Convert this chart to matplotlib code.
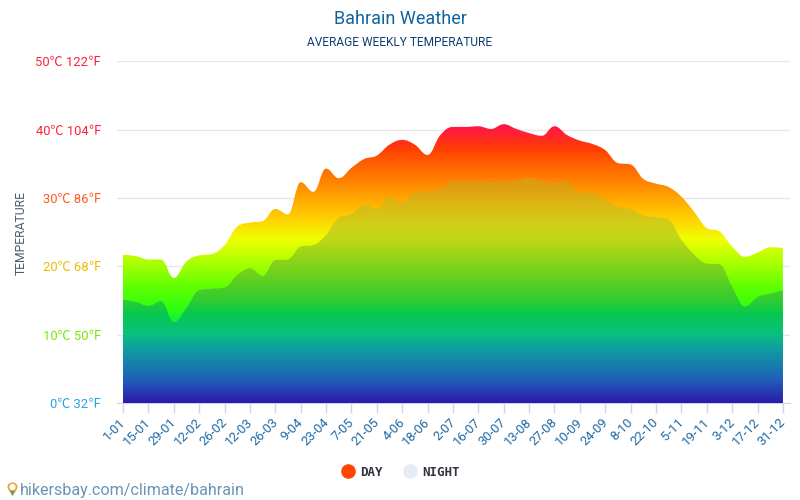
import numpy as np
import matplotlib
matplotlib.use("Agg")
import matplotlib.pyplot as plt
from matplotlib.colors import LinearSegmentedColormap
from matplotlib.lines import Line2D
from matplotlib.patches import PathPatch
from matplotlib.path import Path
from matplotlib.transforms import ScaledTranslation

plt.rcParams['font.family'] = ['Roboto', 'Noto Sans CJK SC', 'DejaVu Sans']

tick_labels = ["1-01", "15-01", "29-01", "12-02", "26-02", "12-03", "26-03", "9-04", "23-04",
               "7-05", "21-05", "4-06", "18-06", "2-07", "16-07", "30-07", "13-08", "27-08",
               "10-09", "24-09", "8-10", "22-10", "5-11", "19-11", "3-12", "17-12", "31-12"]

day = [21.7, 21.5, 21.0, 21.0, 18.3, 20.7, 21.6, 21.8, 23.1, 25.8, 26.4, 26.6, 28.4, 27.6,
       32.3, 30.9, 34.3, 32.9, 34.4, 35.7, 36.2, 37.8, 38.5, 37.8, 36.3, 39.2, 40.4, 40.4,
       40.5, 40.1, 40.8, 40.1, 39.5, 39.1, 40.5, 39.2, 38.4, 37.9, 37.0, 35.1, 34.9, 32.8,
       32.1, 31.6, 30.2, 28.0, 25.6, 25.1, 22.9, 21.4, 22.0, 22.8, 22.7]

night = [15.1, 14.8, 14.2, 14.9, 11.8, 13.9, 16.5, 16.7, 16.9, 18.7, 19.7, 18.6, 20.9, 21.0,
         22.9, 23.1, 24.6, 27.1, 27.6, 29.0, 28.4, 30.2, 29.3, 30.8, 31.0, 31.3, 32.4, 32.5,
         32.5, 32.3, 32.5, 32.6, 33.0, 32.5, 32.3, 32.4, 30.7, 30.8, 29.7, 28.7, 28.4, 27.4,
         27.2, 26.8, 23.9, 21.7, 20.4, 20.3, 17.0, 14.1, 15.5, 16.0, 16.5]

y_ticks = [0, 10, 20, 30, 40, 50]
y_labels = ["0℃ 32℉", "10℃ 50℉", "20℃ 68℉", "30℃ 86℉", "40℃ 104℉", "50℃ 122℉"]
y_colors = ["#2ba1e6", "#78e800", "#eebd00", "#ff5a1e", "#ff2238", "#ff2238"]

# colour stops: (temperature in deg C, colour)
day_stops = [(0, "#2d1aab"), (3.4, "#2060b8"), (8, "#0ea0a0"), (10, "#0abf80"), (11.8, "#10ee40"),
             (14, "#30ff10"), (17, "#60ff00"), (20, "#a0ff00"), (24, "#f0ff00"), (27, "#ffd000"),
             (30, "#ffa500"), (35, "#ff6000"), (37, "#ff4000"), (40, "#ff1a40"), (50, "#ff0060")]
night_stops = [(0, "#2d1aab"), (3.4, "#2060b8"), (8, "#0ea0a0"), (10, "#0abf80"), (13, "#06c850"),
               (15, "#30cc30"), (18, "#60d020"), (21, "#90d418"), (24, "#c0d818"), (26, "#d0d018"),
               (29, "#dcb814"), (32, "#e09a10"), (50, "#e09a10")]


def spline_path(values):
    """Area path with Highcharts-style spline smoothing, closed down to the zero line."""
    n = len(values)
    x = np.arange(n, dtype=float)
    y = np.asarray(values, dtype=float)
    verts = [(0.0, 0.0), (x[0], y[0])]
    codes = [Path.MOVETO, Path.LINETO]
    lefts, rights = [None] * n, [None] * n
    for i in range(1, n - 1):
        lx = (1.5 * x[i] + x[i - 1]) / 2.5
        ly = (1.5 * y[i] + y[i - 1]) / 2.5
        rx = (1.5 * x[i] + x[i + 1]) / 2.5
        ry = (1.5 * y[i] + y[i + 1]) / 2.5
        corr = (ry - ly) * (rx - x[i]) / (rx - lx) + y[i] - ry
        ly += corr
        ry += corr
        if ly > max(y[i - 1], y[i]):
            ry = 2 * y[i] - max(y[i - 1], y[i])
            ly = max(y[i - 1], y[i])
        elif ly < min(y[i - 1], y[i]):
            ry = 2 * y[i] - min(y[i - 1], y[i])
            ly = min(y[i - 1], y[i])
        if ry > max(y[i + 1], y[i]):
            ly = 2 * y[i] - max(y[i + 1], y[i])
            ry = max(y[i + 1], y[i])
        elif ry < min(y[i + 1], y[i]):
            ly = 2 * y[i] - min(y[i + 1], y[i])
            ry = min(y[i + 1], y[i])
        lefts[i] = (lx, ly)
        rights[i] = (rx, ry)
    for i in range(1, n):
        c1 = rights[i - 1] if rights[i - 1] else (x[i - 1], y[i - 1])
        c2 = lefts[i] if lefts[i] else (x[i], y[i])
        verts += [c1, c2, (x[i], y[i])]
        codes += [Path.CURVE4] * 3
    verts += [(x[-1], 0.0), (0.0, 0.0)]
    codes += [Path.LINETO, Path.CLOSEPOLY]
    return Path(verts, codes)


def gradient_area(ax, values, stops, z):
    cmap = LinearSegmentedColormap.from_list(
        "g", [(t / 50, c) for t, c in stops], N=512)
    ramp = np.linspace(0, 1, 512).reshape(-1, 1)
    im = ax.imshow(ramp, origin="lower", extent=[0, len(values) - 1, 0, 50],
                   aspect="auto", cmap=cmap, vmin=0, vmax=1, zorder=z,
                   interpolation="bilinear")
    im.set_clip_path(PathPatch(spline_path(values), transform=ax.transData))


W, H = 800, 500
fig = plt.figure(figsize=(W / 100, H / 100), dpi=100, facecolor="white")
ax = fig.add_axes([117 / W, 1 - 403 / H, (790 - 117) / W, (403 - 61.3) / H])

gradient_area(ax, day, day_stops, 2)
gradient_area(ax, night, night_stops, 3)

step = 12.69
ax.set_xlim((117 - 123) / step, (790 - 123) / step)
ax.set_ylim(0, 50)

ax.set_yticks(y_ticks)
ax.set_yticklabels(y_labels, fontsize=9.4)
y_shift = ScaledTranslation(0, -1 / 100, fig.dpi_scale_trans)
for lab, col in zip(ax.get_yticklabels(), y_colors):
    lab.set_color(col)
    lab.set_transform(lab.get_transform() + y_shift)
ax.tick_params(axis="y", length=0, pad=11.2)
ax.grid(axis="y", color="#e6e6e6", linewidth=1, zorder=1)
ax.set_axisbelow(True)

ax.set_xticks(np.arange(len(tick_labels)) * 2)
ax.set_xticklabels(tick_labels, rotation=45, ha="right", va="top",
                   rotation_mode="anchor", fontsize=9.4, color="#1f6aa5")
ax.tick_params(axis="x", length=7.2, width=1, color="#ccd6eb", pad=2)
x_shift = ScaledTranslation(-4 / 100, 0, fig.dpi_scale_trans)
for lab in ax.get_xticklabels():
    lab.set_transform(lab.get_transform() + x_shift)

for s in ("top", "left", "right"):
    ax.spines[s].set_visible(False)
ax.spines["bottom"].set_color("#ccd6eb")

fig.text(400 / W, 1 - 18.5 / H, "Bahrain Weather", ha="center", va="center",
         fontsize=13, color="#0f639f")
fig.text(400 / W, 1 - 42 / H, "AVERAGE WEEKLY TEMPERATURE", ha="center", va="center",
         fontsize=8.6, color="#0d3f73")
fig.text(21.5 / W, 1 - 232.5 / H, "TEMPERATURE", rotation=90, ha="center", va="center",
         fontsize=8.7, color="#4d5a73")

handles = [Line2D([], [], linestyle="", marker="o", markersize=9.5, color="#ff4500"),
           Line2D([], [], linestyle="", marker="o", markersize=9.5, color="#e6ecf3")]
leg = fig.legend(handles, ["DAY", "NIGHT"], ncol=2, loc="center",
                 bbox_to_anchor=(397.5 / W, 1 - 472 / H), frameon=False,
                 handletextpad=0.0, columnspacing=1.19,
                 prop={"family": "DejaVu Sans Mono", "weight": "bold", "size": 9})
for t in leg.get_texts():
    t.set_color("#333340")

fig.text(20 / W, 1 - 490.5 / H, "hikersbay.com/climate/bahrain", ha="left", va="center",
         fontsize=11.6, color="#6a94b5")

# location pin beside the link
pax = fig.add_axes([6 / W, 1 - 498 / H, 13 / W, 17 / H])
pax.set_xlim(0, 13)
pax.set_ylim(17, 0)
pax.axis("off")
pin = Path([(6.5, 15), (3, 10), (1.5, 7.5), (1.5, 6), (1.5, 3), (3.8, 1.5), (6.5, 1.5),
            (9.2, 1.5), (11.5, 3), (11.5, 6), (11.5, 7.5), (10, 10), (6.5, 15)],
           [Path.MOVETO, Path.CURVE4, Path.CURVE4, Path.CURVE4, Path.CURVE4, Path.CURVE4,
            Path.CURVE4, Path.CURVE4, Path.CURVE4, Path.CURVE4, Path.CURVE4, Path.CURVE4,
            Path.CURVE4])
pax.add_patch(PathPatch(pin, facecolor="#f5a030", edgecolor="none"))
pax.add_patch(plt.Circle((6.5, 6), 2.4, color="white"))
pax.add_patch(PathPatch(Path([(6.5, 15), (4.5, 10), (8.5, 10), (6.5, 15)]),
                        facecolor="#35a8a0", edgecolor="none"))

fig.savefig("out.png", dpi=100)
